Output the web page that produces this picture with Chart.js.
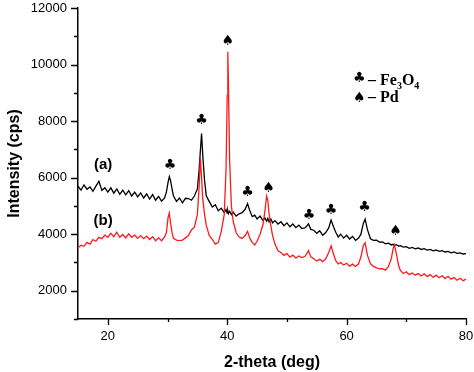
<!DOCTYPE html>
<html>
<head>
<meta charset="utf-8">
<script src="https://cdn.jsdelivr.net/npm/chart.js@4.4.0/dist/chart.umd.min.js"></script>
<style>
  html, body { margin: 0; padding: 0; background: #fff; }
  #wrap { width: 474px; height: 372px; position: relative; }
</style>
</head>
<body>
<div id="wrap"><canvas id="canvas"></canvas></div>
<script>
//Data (2-theta in deg, intensity in cps)
var twoTheta = [
    15, 15.5, 16, 16.5, 17, 17.5, 18, 18.5, 19, 19.5,
    20, 20.5, 21, 21.5, 22, 22.5, 23, 23.5, 24, 24.5,
    25, 25.5, 26, 26.5, 27, 27.5, 28, 28.5, 29, 29.5,
    29.8, 30.1, 30.3, 30.5, 30.8, 31, 31.5, 32, 32.5, 33,
    33.5, 34, 34.5, 35, 35.3, 35.5, 35.7, 35.9, 36.2, 36.5,
    37, 37.5, 38, 38.5, 39, 39.5, 39.8, 40, 40.1, 40.2,
    40.4, 40.7, 41, 41.5, 42, 42.5, 43, 43.4, 43.8, 44.2,
    44.6, 45, 45.5, 46, 46.3, 46.6, 46.8, 47, 47.3, 47.6,
    48, 48.5, 49, 49.5, 50, 50.5, 51, 51.5, 52, 52.5,
    53, 53.3, 53.6, 54, 54.5, 55, 55.5, 56, 56.5, 57,
    57.4, 57.8, 58.2, 58.6, 59, 59.5, 60, 60.5, 61, 61.5,
    62, 62.4, 62.8, 63.1, 63.5, 64, 64.5, 65, 65.5, 66,
    66.5, 67, 67.5, 67.8, 68, 68.3, 68.7, 69, 69.5, 70,
    70.5, 71, 71.5, 72, 72.5, 73, 73.5, 74, 74.5, 75,
    75.5, 76, 76.5, 77, 77.5, 78, 78.5, 79, 79.5, 80
];
//curve (a), black
var intensityA = [
    5700, 5560, 5740, 5590, 5670, 5520, 5700, 5870, 5550, 5640,
    5490, 5640, 5450, 5600, 5410, 5560, 5390, 5540, 5350, 5490,
    5320, 5460, 5280, 5420, 5240, 5400, 5200, 5340, 5170, 5280,
    5480, 5850, 6040, 5900, 5550, 5350, 5160, 5280, 5110, 5270,
    5260, 5200, 5350, 5600, 6300, 6950, 7560, 6800, 5900, 5350,
    5150, 4960, 5040, 4830, 4920, 4760, 4870, 4750, 4830, 4730,
    4810, 4690, 4780, 4640, 4720, 4760, 4880, 5080, 4820, 4620,
    4670, 4540, 4640, 4480, 4580, 4460, 4560, 4430, 4540, 4400,
    4480, 4360, 4440, 4300, 4400, 4260, 4360, 4230, 4320, 4200,
    4220, 4280, 4370, 4170, 4140, 4030, 4120, 3960, 4060, 4220,
    4500, 4260, 4060, 3900, 4000, 3860, 3960, 3830, 3920, 3780,
    3860, 4000, 4380, 4530, 4150, 3840, 3780, 3790, 3720, 3730,
    3660, 3680, 3620, 3640, 3600, 3630, 3580, 3590, 3540, 3560,
    3500, 3530, 3480, 3510, 3460, 3490, 3440, 3460, 3410, 3440,
    3390, 3420, 3370, 3390, 3340, 3370, 3320, 3340, 3300, 3310
];
//curve (b), red
var intensityB = [
    3520, 3610, 3570, 3710, 3650, 3810, 3750, 3890, 3840, 3970,
    3890, 4030, 3910, 4070, 3890, 3990, 3870, 4010, 3890, 3970,
    3850, 3950, 3840, 3930, 3810, 3910, 3770, 3870, 3770, 3900,
    4050, 4600, 4750, 4400, 4000, 3850, 3790, 3770, 3790, 3870,
    3950, 4150, 4250, 4700, 5700, 6700, 6000, 5250, 4700, 4300,
    3950, 3820, 3650, 3700, 4100, 4700, 6300, 8900, 10450, 9300,
    6600, 5000, 4450, 4050, 3900, 3850, 3950, 4100, 3850, 3700,
    3620, 3750, 4000, 4350, 4800, 5350, 5200, 4750, 4300, 3950,
    3650, 3410, 3350, 3250, 3310, 3190, 3260, 3150, 3230, 3170,
    3210, 3300, 3420, 3200, 3130, 3050, 3110, 3030, 3130, 3350,
    3590, 3300, 3050, 2950, 3000, 2910, 2970, 2870, 2940, 2860,
    2950, 3200, 3600, 3700, 3250, 2950, 2860, 2810, 2770, 2780,
    2730, 2850, 3150, 3500, 3620, 3350, 2900, 2720, 2610, 2670,
    2570, 2630, 2550, 2610, 2520, 2600, 2500, 2570, 2470, 2550,
    2460, 2530, 2430, 2510, 2410, 2470, 2370, 2440, 2350, 2410
];

//peak markers: club = Fe3O4, spade = Pd
var clubX = [30.4, 35.7, 43.4, 53.7, 57.4, 63.0];
var clubY = [6450, 8040, 5490, 4660, 4860, 4960];
var spadeX = [40.1, 46.9, 68.2];
var spadeY = [10810, 5630, 4100];

//curve names and where they sit
var curveNames = ['(a)', '(b)'];
var curveNameX = [19.2, 19.2];
var curveNameY = [6450, 4460];

var xTicks = [20, 30, 40, 50, 60, 70, 80];
var yTicks = [1000, 2000, 3000, 4000, 5000, 6000, 7000, 8000, 9000, 10000, 11000, 12000];

function toPoints(xs, ys) {
    return xs.map(function (x, i) { return {x: x, y: ys[i]}; });
}

//tick marks, long on labelled ticks, short between
var tickMarks = {
    id: 'tickMarks',
    afterDraw: function (chart) {
        var ctx = chart.ctx;
        var xs = chart.scales.x, ys = chart.scales.y;
        var area = chart.chartArea;
        ctx.save();
        ctx.strokeStyle = '#000';
        ctx.lineWidth = 1.3;
        ctx.beginPath();
        ys.ticks.forEach(function (t) {
            var py = Math.round(ys.getPixelForValue(t.value)) + 0.5;
            var len = t.value % 2000 === 0 ? 7 : 4;
            ctx.moveTo(area.left - len, py);
            ctx.lineTo(area.left, py);
        });
        xs.ticks.forEach(function (t) {
            var px = Math.round(xs.getPixelForValue(t.value)) + 0.5;
            var len = t.value % 20 === 0 ? 6 : 3;
            ctx.moveTo(px, area.bottom);
            ctx.lineTo(px, area.bottom + len);
        });
        ctx.stroke();
        ctx.restore();
    }
};

//peak symbols, curve names and the key
var notes = {
    id: 'notes',
    afterDatasetsDraw: function (chart) {
        var ctx = chart.ctx;
        var xs = chart.scales.x, ys = chart.scales.y;
        ctx.save();
        ctx.fillStyle = '#000';
        ctx.textAlign = 'center';
        ctx.textBaseline = 'middle';
        ctx.font = 'bold 14px "DejaVu Sans"';
        clubX.forEach(function (x, i) {
            ctx.fillText('\u2663', xs.getPixelForValue(x), ys.getPixelForValue(clubY[i]));
        });
        spadeX.forEach(function (x, i) {
            ctx.fillText('\u2660', xs.getPixelForValue(x), ys.getPixelForValue(spadeY[i]));
        });

        ctx.font = 'bold 15px "Liberation Sans", Arial, sans-serif';
        curveNames.forEach(function (name, i) {
            ctx.fillText(name, xs.getPixelForValue(curveNameX[i]), ys.getPixelForValue(curveNameY[i]));
        });

        //key
        ctx.textAlign = 'left';
        ctx.textBaseline = 'alphabetic';
        drawKeyLine(ctx, 353, 82, 85, '\u2663', [['\u2013 Fe', 0], ['3', 1], ['O', 0], ['4', 1]]);
        drawKeyLine(ctx, 353, 102, 102, '\u2660', [['\u2013 Pd', 0]]);
        ctx.restore();
    }
};

function drawKeyLine(ctx, x, symBase, textBase, symbol, parts) {
    ctx.font = 'bold 14px "DejaVu Sans"';
    ctx.fillText(symbol, x, symBase);
    var cx = x + 15;
    parts.forEach(function (p) {
        ctx.font = p[1] ? 'bold 10px "Liberation Serif"' : 'bold 16px "Liberation Serif"';
        ctx.fillText(p[0], cx, textBase + (p[1] ? 4 : 0));
        cx += ctx.measureText(p[0]).width;
    });
}

var config = {
    type: 'line',
    data: {
        datasets: [{
            label: '(b)',
            data: toPoints(twoTheta, intensityB),
            borderColor: '#ff1a1a',
            borderWidth: 1.3,
            pointRadius: 0,
            fill: false
        }, {
            label: '(a)',
            data: toPoints(twoTheta, intensityA),
            borderColor: '#000000',
            borderWidth: 1.3,
            pointRadius: 0,
            fill: false
        }]
    },
    options: {
        responsive: false,
        animation: false,
        events: [],
        layout: {padding: {top: 8, right: 8, left: 0, bottom: 0}},
        plugins: {legend: {display: false}, tooltip: {enabled: false}},
        scales: {
            x: {
                type: 'linear',
                min: 15,
                max: 80,
                afterBuildTicks: function (scale) {
                    scale.ticks = xTicks.map(function (v) { return {value: v}; });
                },
                afterFit: function (scale) {
                    scale.height = 53;
                    scale.paddingLeft = 0;
                    scale.paddingRight = 0;
                },
                ticks: {
                    color: '#000',
                    font: {family: '"Liberation Sans", Arial, sans-serif', size: 13},
                    padding: 10,
                    maxRotation: 0,
                    autoSkip: false,
                    callback: function (v) { return v % 20 === 0 ? String(v) : ''; }
                },
                grid: {drawOnChartArea: false, drawTicks: false},
                border: {display: true, color: '#000', width: 1.5},
                title: {
                    display: true,
                    text: '2-theta (deg)',
                    color: '#000',
                    font: {family: '"Liberation Sans", Arial, sans-serif', size: 16, weight: 'bold'},
                    padding: {top: 0, bottom: 0}
                }
            },
            y: {
                min: 1000,
                max: 12000,
                afterBuildTicks: function (scale) {
                    scale.ticks = yTicks.map(function (v) { return {value: v}; });
                },
                afterFit: function (scale) {
                    scale.width = 78;
                    scale.paddingTop = 0;
                    scale.paddingBottom = 0;
                },
                ticks: {
                    color: '#000',
                    font: {family: '"Liberation Sans", Arial, sans-serif', size: 13},
                    padding: 11,
                    autoSkip: false,
                    callback: function (v) { return v % 2000 === 0 ? String(v) : ''; }
                },
                grid: {drawOnChartArea: false, drawTicks: false},
                border: {display: true, color: '#000', width: 1.5},
                title: {
                    display: true,
                    text: 'Intensity (cps)',
                    color: '#000',
                    font: {family: '"Liberation Sans", Arial, sans-serif', size: 16, weight: 'bold'},
                    padding: {top: 5, bottom: 0}
                }
            }
        }
    },
    plugins: [tickMarks, notes]
};

var canvas = document.getElementById('canvas');
canvas.width = 474;
canvas.height = 372;
window.myLine = new Chart(canvas.getContext('2d'), config);
</script>
</body>
</html>
